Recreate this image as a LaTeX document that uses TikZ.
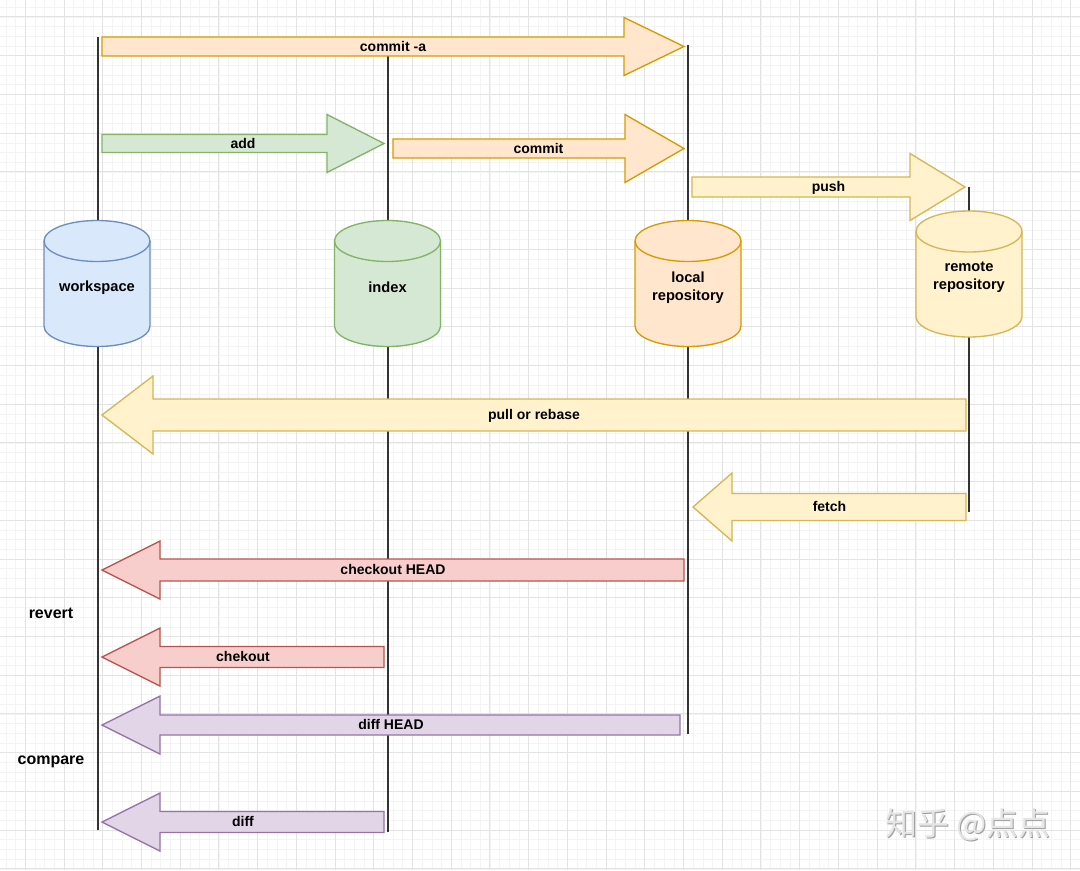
\documentclass[tikz,border=0pt]{standalone}
\usepackage{fontspec}
\setmainfont{Liberation Sans}
\newfontfamily\cjkfont{Noto Sans CJK SC}
\definecolor{wsfill}{HTML}{DAE8FC}\definecolor{wsdraw}{HTML}{6C8EBF}
\definecolor{gnfill}{HTML}{D5E8D4}\definecolor{gndraw}{HTML}{82B366}
\definecolor{orfill}{HTML}{FFE6CC}\definecolor{ordraw}{HTML}{D79B00}
\definecolor{ylfill}{HTML}{FFF2CC}\definecolor{yldraw}{HTML}{D6B656}
\definecolor{rdfill}{HTML}{F8CECC}\definecolor{rddraw}{HTML}{B85450}
\definecolor{pufill}{HTML}{E1D5E7}\definecolor{pudraw}{HTML}{9673A6}
\definecolor{gridminor}{HTML}{F4F4F4}\definecolor{gridmajor}{HTML}{E3E3E3}
\definecolor{lifecol}{HTML}{333333}
\tikzset{
  minorgrid/.style={draw=gridminor,line width=0.5pt},
  majorgrid/.style={draw=gridmajor,line width=0.75pt},
  lifeline/.style={draw=lifecol,line width=0.8pt},
  shp/.style={line width=1pt,line join=miter},
  blue shp/.style={shp,fill=wsfill,draw=wsdraw},
  green shp/.style={shp,fill=gnfill,draw=gndraw},
  orange shp/.style={shp,fill=orfill,draw=ordraw},
  yellow shp/.style={shp,fill=ylfill,draw=yldraw},
  red shp/.style={shp,fill=rdfill,draw=rddraw},
  purple shp/.style={shp,fill=pufill,draw=pudraw},
  lbl/.style={font=\fontsize{10.5}{12.6}\selectfont\bfseries,inner sep=0pt,text height=0.905em,text depth=0.212em},
  cyllbl/.style={font=\fontsize{11}{13.5}\selectfont\bfseries,align=center,inner sep=0pt},
  sidelbl/.style={font=\fontsize{12}{14}\selectfont\bfseries,inner sep=0pt,text height=0.905em,text depth=0.212em},
}
% right block arrow: style, name, label, x1, base, tip, yc, body half, head half
\newcommand\rblock[9]{%
  \draw[#1] (#4,#7-#8) -- (#5,#7-#8) -- (#5,#7-#9) -- (#6,#7) -- (#5,#7+#9) -- (#5,#7+#8) -- (#4,#7+#8) -- cycle;
  \node[lbl] (#2) at ({(#4+#6)/2},#7) {#3};}
% left block arrow: style, name, label, tip, base, x2, yc, body half, head half
\newcommand\lblock[9]{%
  \draw[#1] (#6,#7-#8) -- (#5,#7-#8) -- (#5,#7-#9) -- (#4,#7) -- (#5,#7+#9) -- (#5,#7+#8) -- (#6,#7+#8) -- cycle;
  \node[lbl] (#2) at ({(#4+#6)/2},#7) {#3};}
% cylinder: style, cx, top, bottom, rx, ry
\newcommand\cylshape[6]{%
  \draw[#1] (#2-#5,#3+#6) -- (#2-#5,#4-#6)
     arc[start angle=180,end angle=360,x radius=#5*0.75pt,y radius=#6*0.75pt]
     -- (#2+#5,#3+#6)
     arc[start angle=0,end angle=180,x radius=#5*0.75pt,y radius=#6*0.75pt] -- cycle;
  \draw[#1,fill=none] (#2-#5,#3+#6)
     arc[start angle=180,end angle=360,x radius=#5*0.75pt,y radius=#6*0.75pt];}
\begin{document}
\begin{tikzpicture}[x=0.75pt,y=-0.75pt]
\useasboundingbox (0,0) rectangle (1080,870);
\fill[white] (0,0) rectangle (1080,870);
% grid
\foreach \i in {0,...,111} \draw[minorgrid] ({5.94+9.68*\i},0) -- ({5.94+9.68*\i},870);
\foreach \i in {0,...,89} \draw[minorgrid] (0,{7.32+9.68*\i}) -- (1080,{7.32+9.68*\i});
\foreach \i in {0,...,27} \draw[majorgrid] ({25.3+38.72*\i},0) -- ({25.3+38.72*\i},870);
\foreach \i in {0,...,22} \draw[majorgrid] (0,{17+38.72*\i}) -- (1080,{17+38.72*\i});
% lifelines
\coordinate (wsT) at (98,37);   \coordinate (wsB) at (98,830);
\coordinate (ixT) at (388,46);  \coordinate (ixB) at (388,832);
\coordinate (lrT) at (688,45);  \coordinate (lrB) at (688,734);
\coordinate (rrT) at (969,187); \coordinate (rrB) at (969,512);
\draw[lifeline] (wsT) -- (wsB);
\draw[lifeline] (ixT) -- (ixB);
\draw[lifeline] (lrT) -- (lrB);
\draw[lifeline] (rrT) -- (rrB);
% cylinders
\cylshape{blue shp}{97}{220.5}{346.5}{53}{20.5}
\node[cyllbl] (workspace) at (97,288) {workspace};
\cylshape{green shp}{387.5}{220.5}{346.5}{53}{20.5}
\node[cyllbl] (index) at (387.5,287) {index};
\cylshape{orange shp}{688}{220.5}{346.5}{53}{20.5}
\node[cyllbl] (local) at (688,287.5) {local\\repository};
\cylshape{yellow shp}{969}{211}{337}{53}{20.5}
\node[cyllbl] (remote) at (969,277) {remote\\repository};
% right arrows
\rblock{orange shp}{commita}{commit -a}{102}{624}{684}{46.5}{9.5}{29}
\rblock{green shp}{add}{add}{102}{327}{384}{143.5}{9}{29}
\rblock{orange shp}{commit}{commit}{393}{625}{684}{148.5}{9.5}{34}
\rblock{yellow shp}{push}{push}{692}{910}{965}{187}{10}{33.5}
% left arrows
\lblock{yellow shp}{pull}{pull or rebase}{102}{153}{966}{415}{16}{39}
\lblock{yellow shp}{fetch}{fetch}{693}{732}{966}{507}{13.5}{34}
\lblock{red shp}{checkouthead}{checkout HEAD}{102}{160}{684}{570}{11}{29}
\lblock{red shp}{chekout}{chekout}{102}{160}{384}{657}{10.5}{29}
\lblock{purple shp}{diffhead}{diff HEAD}{102}{160}{680}{725}{10}{29}
\lblock{purple shp}{diff}{diff}{102}{160}{384}{822}{10.5}{29}
% side labels
\node[sidelbl] (revert) at (51,614) {revert};
\node[sidelbl] (compare) at (51,760) {compare};
% watermark
\node[font=\cjkfont\fontsize{24}{24}\selectfont,text=black!38,inner sep=0pt] (wmshadow) at (969.2,826.2) {知乎 @点点};
\node[font=\cjkfont\fontsize{24}{24}\selectfont,text=black!10,inner sep=0pt] (wm) at (968,825) {知乎 @点点};
\end{tikzpicture}
\end{document}
